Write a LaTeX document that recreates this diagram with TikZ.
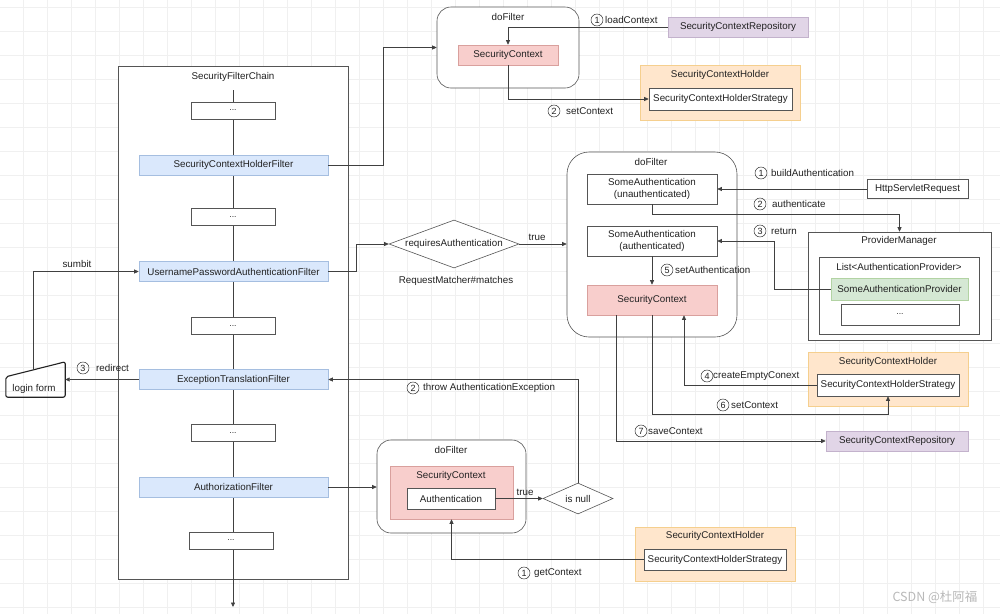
\documentclass[tikz,border=0pt]{standalone}
\usepackage{fontspec}
\setmainfont{Liberation Sans}
\newfontfamily\cjkfont{Noto Sans CJK SC}
\usetikzlibrary{arrows.meta,shapes.geometric,positioning,calc}

\definecolor{txt}{HTML}{222222}
\definecolor{wire}{HTML}{404040}
\definecolor{edge}{HTML}{555555}
\definecolor{blueFill}{HTML}{DAE8FC}
\definecolor{blueLine}{HTML}{A5BEE0}
\definecolor{redFill}{HTML}{F8CECC}
\definecolor{redLine}{HTML}{D9A09D}
\definecolor{violetFill}{HTML}{E1D5E7}
\definecolor{violetLine}{HTML}{C3B2CC}
\definecolor{orangeFill}{HTML}{FFE6CC}
\definecolor{orangeLine}{HTML}{F5CF8E}
\definecolor{greenFill}{HTML}{D5E8D4}
\definecolor{greenLine}{HTML}{B2D3A3}
\definecolor{gridGray}{HTML}{F0F0F0}

\tikzset{
  gridline/.style={gridGray, line width=0.6pt},
  box/.style={draw=edge, fill=white, inner sep=0pt, align=center, text=txt, line width=0.6pt},
  wh/.style 2 args={minimum width=#1pt, minimum height=#2pt},
  chainbox/.style={box},
  groupbox/.style={box, rounded corners=14pt},
  dotsbox/.style={box, wh={84}{17}, font=\fontsize{8.5}{9}\selectfont},
  filterbox/.style={box, draw=blueLine, fill=blueFill, wh={189}{20}},
  ctxbox/.style={box, draw=redLine, fill=redFill},
  repobox/.style={box, draw=violetLine, fill=violetFill, wh={141}{20}},
  holderbox/.style={box, draw=orangeLine, fill=orangeFill, wh={160}{54}},
  stratbox/.style={box, wh={142}{22}},
  decision/.style={box, diamond, aspect=2.7},
  title/.style={inner sep=0pt, text=txt},
  lbl/.style={inner sep=0pt, anchor=west, text=txt},
  numc/.style={circle, draw=txt, line width=0.45pt, inner sep=0pt, minimum size=12pt, text=txt, font=\fontsize{9}{9}\selectfont},
  flow/.style={draw=wire, line width=0.7pt, -{Triangle[length=4.5pt,width=4pt]}}
}

\begin{document}
\begin{tikzpicture}[x=1pt,y=-1pt,font=\fontsize{9.8}{11.5}\selectfont]
\useasboundingbox (0,0) rectangle (1000,614);
\fill[white] (0,0) rectangle (1000,614);
%\draw[help lines] grid
\foreach \gx in {23,47,...,1000} \draw[gridline] (\gx,0) -- (\gx,614);
\foreach \gy in {7,31,...,614} \draw[gridline] (0,\gy) -- (1000,\gy);

% SecurityFilterChain
\node[chainbox, wh={230}{513}] (chain) at (233,322.5) {};
\node[title] (chaintitle) at (233,77) {SecurityFilterChain};
\coordinate (chaintop) at (233,90);
\coordinate (chainend) at (233,607);
\draw[flow] (chaintop) -- (chainend);
\node[dotsbox] (d1) at (233,110.5) {...};
\node[filterbox] (schf) at (233.5,165) {SecurityContextHolderFilter};
\node[dotsbox] (d2) at (233,217) {...};
\node[filterbox] (upaf) at (233.5,271.5) {UsernamePasswordAuthenticationFilter};
\node[dotsbox] (d3) at (233,326) {...};
\node[filterbox] (etf) at (233.5,379.5) {ExceptionTranslationFilter};
\node[dotsbox] (d4) at (233,433) {...};
\node[filterbox] (af) at (233.5,487) {AuthorizationFilter};
\node[dotsbox] (d5) at (231,540.5) {...};

% login form
\node[inner sep=0pt, wh={59}{35}] (login) at (35.5,379.5) {};
\draw[txt, line width=1.1pt, rounded corners=2pt]
  (login.south west) -- ($(login.north west)+(0,15)$) -- (login.north east) -- (login.south east) -- cycle;
\node[title] (logintext) at (34,389) {login form};
\coordinate (formtop) at (33,370);
\draw[flow] (formtop) |- (upaf.west);
\node[title] (sumbit) at (77,264) {sumbit};
\draw[flow] (etf.west) -- (login.east |- etf.west);
\node[numc] (r3) at (83,368) {3};
\node[lbl] (redirect) at (96,368) {redirect};

% doFilter: load context
\node[groupbox, wh={142}{81}] (group1) at (508,47.5) {};
\node[title] (group1title) at (508,17) {doFilter};
\node[ctxbox, wh={100}{20}] (sc1) at (508,55) {SecurityContext};
\node[repobox, wh={140}{20}] (repo1) at (738,27) {SecurityContextRepository};
\node[holderbox, wh={160}{55}] (holder1) at (720,92.5) {};
\node[title] (holder1title) at (720,75) {SecurityContextHolder};
\node[stratbox, wh={143}{22}] (strat1) at (720.5,99) {SecurityContextHolderStrategy};
\draw[flow] (schf.east) -- (383,165) |- (group1.west);
\draw[flow] (repo1.west) -| (sc1.north);
\draw[flow] (sc1.south) |- (strat1.west);
\node[numc] (l1) at (597,20) {1};
\node[lbl] (loadctx) at (605,20) {loadContext};
\node[numc] (s2) at (554,111) {2};
\node[lbl] (setctx1) at (566,111) {setContext};

% doFilter: authentication
\node[groupbox, rounded corners=22pt, wh={170}{185}] (group2) at (652,244.5) {};
\node[title] (group2title) at (651,162) {doFilter};
\node[box, wh={130}{30}] (auth1) at (652,189) {SomeAuthentication\\(unauthenticated)};
\node[box, wh={130}{30}] (auth2) at (652,241) {SomeAuthentication\\(authenticated)};
\node[ctxbox, wh={130}{30}] (sc2) at (652,300) {SecurityContext};
\node[box, wh={101}{19}] (http) at (917.5,189) {HttpServletRequest};
\node[box, wh={183}{108}] (pm) at (899.5,286) {};
\node[title] (pmtitle) at (899,241) {ProviderManager};
\node[box, wh={160}{77}] (list) at (899,295.5) {};
\node[title] (listtitle) at (899,267) {List<AuthenticationProvider>};
\node[box, draw=greenLine, fill=greenFill, wh={137}{22}] (sap) at (899.5,289) {SomeAuthenticationProvider};
\node[dotsbox, wh={118}{21}] (d6) at (900,314.5) {...};
\node[holderbox] (holder2) at (888,379) {};
\node[title] (holder2title) at (888,362) {SecurityContextHolder};
\node[stratbox] (strat2) at (888,385) {SecurityContextHolderStrategy};
\node[repobox, wh={142}{20}] (repo2) at (897,441) {SecurityContextRepository};
\node[decision, wh={130}{48}] (req) at (454,244) {requiresAuthentication};
\node[title] (matches) at (456,281) {RequestMatcher\#matches};
\node[title] (true1) at (537,237) {true};

\draw[flow] (upaf.east) -- (356,271.5) |- (req.west);
\draw[flow] (req.east) -- (group2.west |- req.east);
\draw[flow] (http.west) -- (auth1.east);
\draw[flow] (auth1.south) -- (652,214) -| (pm.north);
\draw[flow] (sap.west) -- (774,289) |- (auth2.east);
\draw[flow] (auth2.south) -- (sc2.north);
\draw[flow] (strat2.west) -| (684,0 |- sc2.south);
\draw[flow] (sc2.south) -- (652,414) -| (strat2.south);
\draw[flow] (616,0 |- sc2.south) |- (repo2.west);

\node[numc] (b1) at (761,173) {1};
\node[lbl] (buildauth) at (771,173) {buildAuthentication};
\node[numc] (b2) at (760,204) {2};
\node[lbl] (authenticate) at (772,204) {authenticate};
\node[numc] (b3) at (760,231) {3};
\node[lbl] (return) at (771,231) {return};
\node[numc] (b5) at (667,270) {5};
\node[lbl] (setauth) at (675,270) {setAuthentication};
\node[numc] (b4) at (707,376) {4};
\node[lbl] (createctx) at (713,376) {createEmptyConext};
\node[numc] (b6) at (723,405) {6};
\node[lbl] (setctx2) at (731,405) {setContext};
\node[numc] (b7) at (641,431) {7};
\node[lbl] (savectx) at (648,431) {saveContext};

% doFilter: authorization
\node[groupbox, wh={149}{93}] (group3) at (451.5,486.5) {};
\node[title] (group3title) at (451,450) {doFilter};
\node[ctxbox, wh={123}{53}] (sc3) at (451.5,492.5) {};
\node[title] (sc3title) at (451,476) {SecurityContext};
\node[box, wh={88}{21}] (authn) at (451,498.5) {Authentication};
\node[decision, aspect=2.25, wh={70}{31}] (isnull) at (578,498.5) {is null};
\node[holderbox] (holder3) at (715,554) {};
\node[title] (holder3title) at (715,536) {SecurityContextHolder};
\node[stratbox, wh={142}{21}] (strat3) at (715,559.5) {SecurityContextHolderStrategy};
\node[title] (true2) at (525,492) {true};

\draw[flow] (af.east) -- (group3.west |- af.east);
\draw[flow] (authn.east) -- (isnull.west);
\draw[flow] (isnull.north) |- (etf.east);
\draw[flow] (strat3.west) -| (sc3.south);

\node[numc] (t2) at (413,388) {2};
\node[lbl] (throw) at (423,388) {throw AuthenticationException};
\node[numc] (g1) at (524,573) {1};
\node[lbl] (getctx) at (534,573) {getContext};

\node[title, text=gray!55, font=\cjkfont\fontsize{12.5}{14}\selectfont] (mark) at (935,597) {CSDN @杜阿福};
\end{tikzpicture}
\end{document}
